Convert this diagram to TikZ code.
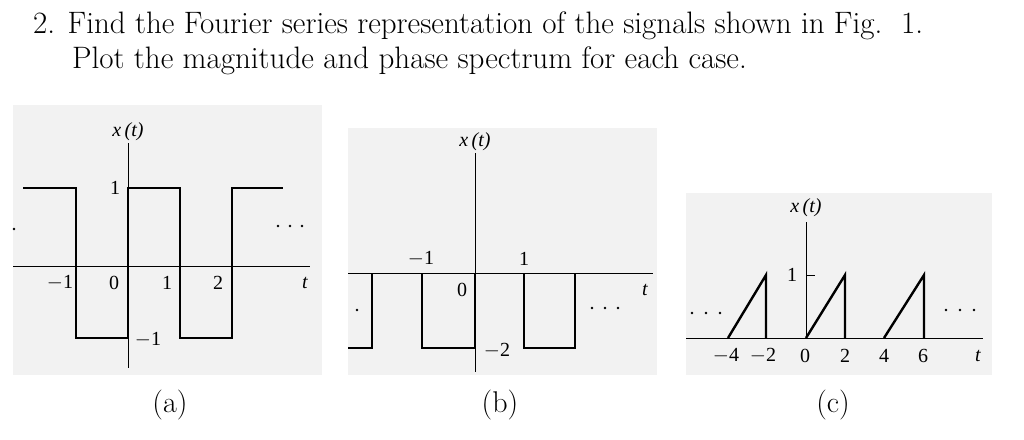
\documentclass[tikz,border=0pt]{standalone}
\usepackage{fontspec}
\newfontfamily\plotfont{Liberation Serif}
\begin{document}
\begin{tikzpicture}[x=1pt,y=-1pt,
  sig/.style={line width=2.4pt,line join=miter},
  ax/.style={line width=1pt},
  lab/.style={font=\plotfont\fontsize{20}{20}\selectfont,inner sep=0pt},
  ttl/.style={font=\fontsize{31}{36}\selectfont,inner sep=0pt,anchor=base west},
  captext/.style={font=\fontsize{30}{34}\selectfont,inner sep=0pt},
  panel/.style={fill=black!5,draw=none}]
\useasboundingbox (0,0) rectangle (1024,439);
\node[ttl] (t1) at (33,33) {2. Find the Fourier series representation of the signals shown in Fig.~~1.};
\node[ttl] (t2) at (72,68) {Plot the magnitude and phase spectrum for each case.};
% panels
\fill[panel] (13,105) rectangle (322,375);
\fill[panel] (348,128) rectangle (657,375);
\fill[panel] (686,193) rectangle (992,375);
% (a)
\draw[ax] (13,266) -- (310,266);
\draw[ax] (128,143) -- (128,368);
\draw[sig] (23,188) -- (76,188) -- (76,338) -- (128,338) -- (128,188) -- (180,188) -- (180,338) -- (232,338) -- (232,188) -- (283,188);
\node[lab] (xa) at (128,132) {\itshape x\,(t)};
\node[lab] (a1) at (115,188) {1};
\node[lab] (am1) at (60,283) {$-$1};
\node[lab] (a0) at (114,283) {0};
\node[lab] (a1b) at (167,283) {1};
\node[lab] (a2) at (218,283) {2};
\node[lab] (at) at (305,283) {\itshape t};
\node[lab] (am1b) at (148,340) {$-$1};
\foreach \x in {278,290,302} \fill (\x,226) circle (1.3);
\fill (14,229) circle (1.3);
% (b)
\draw[ax] (348,273) -- (653,273);
\draw[ax] (475,153) -- (475,372);
\draw[sig] (348,348) -- (372,348) -- (372,273);
\draw[sig] (422,273) -- (422,348) -- (475,348) -- (475,273);
\draw[sig] (524,273) -- (524,348) -- (575,348) -- (575,273);
\node[lab] (xb) at (475,142) {\itshape x\,(t)};
\node[lab] (bm1) at (421,259) {$-$1};
\node[lab] (b1) at (524,259) {1};
\node[lab] (b0) at (462,290) {0};
\node[lab] (bt) at (645,290) {\itshape t};
\node[lab] (bm2) at (497,351) {$-$2};
\foreach \x in {592,605,618} \fill (\x,308) circle (1.3);
\fill (357,310) circle (1.3);
% (c)
\draw[ax] (686,338) -- (983,338);
\draw[ax] (806,222) -- (806,338);
\draw[ax] (806,275) -- (815,275);
\draw[sig] (728,338) -- (766,275) -- (766,338);
\draw[sig] (806,338) -- (845,275) -- (845,338);
\draw[sig] (884,338) -- (924,275) -- (924,338);
\node[lab] (xc) at (806,208) {\itshape x\,(t)};
\node[lab] (c1) at (792,275) {1};
\node[lab] (cm4) at (726,356) {$-$4};
\node[lab] (cm2) at (763,356) {$-$2};
\node[lab] (c0) at (805,356) {0};
\node[lab] (c2) at (845,356) {2};
\node[lab] (c4) at (884,356) {4};
\node[lab] (c6) at (923,356) {6};
\node[lab] (ct) at (978,356) {\itshape t};
\foreach \x in {692,706,720} \fill (\x,313) circle (1.3);
\foreach \x in {946,960,974} \fill (\x,310) circle (1.3);
% captions
\node[captext] (ca) at (170,405) {(a)};
\node[captext] (cb) at (500,405) {(b)};
\node[captext] (cc) at (833,405) {(c)};
\end{tikzpicture}
\end{document}
